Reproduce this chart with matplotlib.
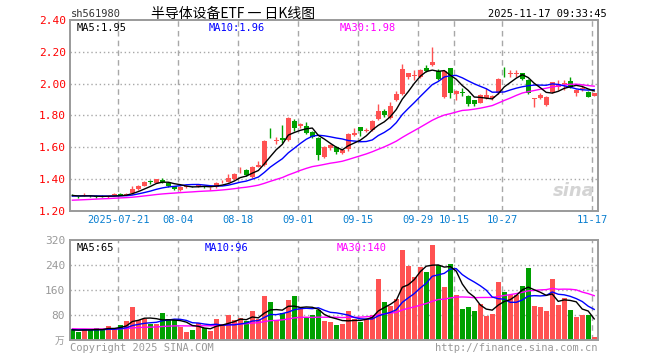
import matplotlib
matplotlib.use("Agg")
import matplotlib.pyplot as plt
import numpy as np
import pandas as pd

# daily candles 2025-07-09 .. 2025-11-17 (88 trading days)
open_ = [1.302, 1.290, 1.296, 1.296, 1.293, 1.294, 1.288, 1.300, 1.306, 1.302,
         1.311, 1.336, 1.360, 1.387, 1.378, 1.395, 1.378, 1.357, 1.330, 1.352,
         1.357, 1.358, 1.356, 1.336, 1.349, 1.380, 1.384, 1.400, 1.443, 1.458,
         1.412, 1.478, 1.489, 1.680, 1.640, 1.660, 1.643, 1.767, 1.733, 1.734,
         1.694, 1.660, 1.537, 1.596, 1.604, 1.565, 1.588, 1.677, 1.726, 1.702,
         1.709, 1.778, 1.830, 1.782, 1.897, 1.933, 2.044, 2.050, 2.040, 2.100,
         2.117, 2.081, 1.914, 2.097, 1.934, 1.946, 1.923, 1.897, 1.880, 1.908,
         1.908, 1.940, 2.094, 2.060, 2.060, 2.065, 2.025, 1.906, 1.908, 1.866,
         1.946, 1.982, 1.998, 2.017, 1.940, 1.968, 1.950, 1.924]
high = [1.306, 1.292, 1.310, 1.300, 1.298, 1.300, 1.296, 1.312, 1.310, 1.312,
        1.355, 1.366, 1.388, 1.393, 1.404, 1.408, 1.383, 1.360, 1.356, 1.362,
        1.360, 1.372, 1.360, 1.350, 1.385, 1.392, 1.434, 1.436, 1.474, 1.462,
        1.482, 1.512, 1.645, 1.720, 1.667, 1.740, 1.790, 1.775, 1.752, 1.760,
        1.700, 1.665, 1.610, 1.620, 1.610, 1.590, 1.688, 1.720, 1.730, 1.720,
        1.772, 1.872, 1.840, 1.885, 1.955, 2.124, 2.070, 2.088, 2.090, 2.115,
        2.230, 2.090, 2.085, 2.100, 1.958, 1.970, 1.927, 1.900, 1.935, 1.970,
        1.930, 2.034, 2.104, 2.088, 2.088, 2.070, 2.030, 1.912, 1.940, 1.922,
        2.012, 2.022, 2.022, 2.040, 1.966, 1.990, 1.955, 1.944]
low = [1.292, 1.280, 1.292, 1.286, 1.284, 1.285, 1.284, 1.298, 1.298, 1.298,
       1.306, 1.330, 1.355, 1.372, 1.374, 1.375, 1.352, 1.332, 1.325, 1.346,
       1.348, 1.352, 1.343, 1.332, 1.345, 1.376, 1.380, 1.396, 1.436, 1.420,
       1.405, 1.474, 1.485, 1.660, 1.620, 1.625, 1.640, 1.700, 1.720, 1.685,
       1.660, 1.520, 1.532, 1.585, 1.555, 1.555, 1.580, 1.672, 1.670, 1.695,
       1.705, 1.770, 1.790, 1.775, 1.890, 1.930, 2.030, 2.020, 2.035, 2.075,
       2.110, 2.020, 1.910, 1.908, 1.900, 1.925, 1.862, 1.862, 1.876, 1.904,
       1.898, 1.936, 2.040, 2.045, 2.045, 2.020, 1.935, 1.855, 1.904, 1.862,
       1.942, 1.962, 1.962, 1.975, 1.925, 1.955, 1.914, 1.920]
close = [1.298, 1.285, 1.300, 1.292, 1.290, 1.291, 1.292, 1.305, 1.302, 1.307,
         1.338, 1.359, 1.384, 1.383, 1.400, 1.380, 1.357, 1.338, 1.352, 1.356,
         1.354, 1.362, 1.349, 1.340, 1.378, 1.385, 1.409, 1.430, 1.448, 1.425,
         1.478, 1.490, 1.640, 1.676, 1.644, 1.643, 1.782, 1.720, 1.745, 1.692,
         1.667, 1.552, 1.604, 1.612, 1.569, 1.583, 1.682, 1.690, 1.700, 1.707,
         1.766, 1.828, 1.800, 1.860, 1.933, 2.092, 2.066, 2.056, 2.086, 2.080,
         2.138, 2.027, 2.080, 1.940, 1.954, 1.942, 1.872, 1.872, 1.929, 1.929,
         1.920, 2.030, 2.090, 2.066, 2.066, 2.030, 1.940, 1.910, 1.929, 1.918,
         2.008, 1.995, 2.002, 1.980, 1.962, 1.972, 1.918, 1.940]
# volume, 万手
volume = [36, 28, 36, 33, 38, 36, 46, 36, 49, 62,
          107, 65, 69, 52, 52, 87, 67, 65, 43, 28,
          33, 54, 38, 31, 68, 52, 81, 65, 71, 60,
          95, 67, 140, 123, 65, 86, 129, 142, 101, 74,
          81, 97, 60, 57, 49, 52, 92, 67, 57, 67,
          81, 196, 121, 108, 132, 289, 236, 203, 235, 219,
          305, 240, 169, 244, 145, 101, 107, 95, 116, 79,
          84, 187, 153, 145, 145, 174, 231, 111, 106, 95,
          196, 113, 135, 97, 73, 81, 81, 9]

# sessions before the window, only feed the moving averages
pre_close = [1.24, 1.25, 1.24, 1.23, 1.24, 1.25, 1.24, 1.24, 1.25, 1.26,
             1.25, 1.25, 1.26, 1.26, 1.27, 1.27, 1.26, 1.27, 1.28, 1.29,
             1.28, 1.29, 1.29, 1.30, 1.29, 1.30, 1.30, 1.29, 1.30]
pre_vol = [40, 38, 42, 36, 39, 41, 37, 35, 40, 38, 36, 39, 37, 41, 38,
           36, 40, 37, 35, 38, 36, 34, 37, 35, 33, 32, 34, 31, 33]

tick_idx = [8, 18, 28, 38, 48, 58, 64, 72, 87]
tick_lab = ["2025-07-21", "08-04", "08-18", "09-01", "09-15", "09-29",
            "10-15", "10-27", "11-17"]

RED = "#FF5252"
GREEN = "#00A000"
GRID = "#A8A8A8"
FRAME = "#9A9A9A"
MONO = "DejaVu Sans Mono"
CJK = ["Noto Sans CJK SC", "DejaVu Sans"]

o = np.array(open_)
h = np.array(high)
l = np.array(low)
c = np.array(close)
v = np.array(volume)
x = np.arange(len(c))
n_pre = len(pre_close)

cs = pd.Series(pre_close + close)
vs = pd.Series(pre_vol + volume)
pma = {k: cs.rolling(k).mean().iloc[n_pre:].values for k in (5, 10, 30)}
vma = {k: vs.rolling(k).mean().iloc[n_pre:].values for k in (5, 10, 30)}

col = np.where(c >= o, RED, GREEN)

fig = plt.figure(figsize=(6.6, 3.6), dpi=100)
W, H = 660.0, 360.0
ax = fig.add_axes([70 / W, 1 - 211 / H, 527.5 / W, 191 / H])
axv = fig.add_axes([70 / W, 1 - 340.3 / H, 527.5 / W, 100.3 / H])

xpos = np.array(tick_idx) - 0.33
for a in (ax, axv):
    a.set_xlim(-0.4, 87.55)
    for xp in xpos:
        a.axvline(xp, color=GRID, lw=1, ls=(0, (4, 3)), zorder=0)
    for s in a.spines.values():
        s.set_color(FRAME)
        s.set_linewidth(1.4)
    a.tick_params(length=0)

# price panel
ax.set_ylim(1.20, 2.40)
for yv in [1.4, 1.6, 1.8, 2.0, 2.2]:
    ax.axhline(yv, color=GRID, lw=1, ls=(0, (1, 2)), zorder=0)
ax.vlines(x, l, h, colors=col, lw=1, zorder=2)
ax.bar(x, np.maximum(np.abs(c - o), 0.004), bottom=np.minimum(o, c),
       width=0.8, color=col, lw=0, zorder=2)
ax.plot(x, pma[30], color="#FF00FF", lw=1, zorder=3)
ax.plot(x, pma[10], color="#0000FF", lw=1, zorder=3)
ax.plot(x, pma[5], color="black", lw=1, zorder=3)
ax.set_yticks([1.2, 1.4, 1.6, 1.8, 2.0, 2.2, 2.4])
ax.set_yticklabels(["%.2f" % t for t in [1.2, 1.4, 1.6, 1.8, 2.0, 2.2, 2.4]],
                   color="red", fontsize=8, family=MONO)
ax.set_xticks(xpos)
ax.set_xticklabels(tick_lab, color="#0A7FD0", fontsize=7.5, family=MONO)
ax.tick_params(axis="x", pad=3)
ax.tick_params(axis="y", pad=3)

ax.text(0.012, 0.985, "MA5:1.95", transform=ax.transAxes, va="top",
        fontsize=7.5, family=MONO, color="black")
ax.text(0.262, 0.985, "MA10:1.96", transform=ax.transAxes, va="top",
        fontsize=7.5, family=MONO, color="#0000FF")
ax.text(0.512, 0.985, "MA30:1.98", transform=ax.transAxes, va="top",
        fontsize=7.5, family=MONO, color="#FF00FF")
ax.text(0.995, 0.06, "sina", transform=ax.transAxes, ha="right", va="bottom",
        fontsize=13, fontweight="bold", style="italic", color="#D4D4D4")

# volume panel
axv.set_ylim(0, 320)
for yv in [80, 160, 240]:
    axv.axhline(yv, color=GRID, lw=1, ls=(0, (1, 2)), zorder=0)
axv.bar(x, v, width=0.83, color=col, lw=0, zorder=2)
axv.plot(x, vma[30], color="#FF00FF", lw=1, zorder=3)
axv.plot(x, vma[10], color="#0000FF", lw=1, zorder=3)
axv.plot(x, vma[5], color="black", lw=1, zorder=3)
axv.set_yticks([80, 160, 240, 320])
axv.set_yticklabels(["80", "160", "240", "320"], color="#999999",
                    fontsize=8, family=MONO)
axv.set_xticks([])
axv.text(0.012, 0.975, "MA5:65", transform=axv.transAxes, va="top",
         fontsize=7.5, family=MONO, color="black")
axv.text(0.255, 0.975, "MA10:96", transform=axv.transAxes, va="top",
         fontsize=7.5, family=MONO, color="#0000FF")
axv.text(0.505, 0.975, "MA30:140", transform=axv.transAxes, va="top",
         fontsize=7.5, family=MONO, color="#FF00FF")

# header and footer
fig.text(71 / W, 1 - 14 / H, "sh561980", fontsize=7.5, family=MONO,
         color="#333333", va="center")
fig.text(233 / W, 1 - 14 / H, "半导体设备ETF 一 日K线图", fontsize=10,
         family=CJK, color="black", va="center", ha="center")
fig.text(607 / W, 1 - 14 / H, "2025-11-17 09:33:45", fontsize=7.5,
         family=MONO, color="black", va="center", ha="right")
fig.text(70 / W, 1 - 348 / H, "Copyright 2025 SINA.COM", fontsize=7.5,
         family=MONO, color="#999999", va="center")
fig.text(597 / W, 1 - 348 / H, "http://finance.sina.com.cn", fontsize=7.5,
         family=MONO, color="#999999", va="center", ha="right")
fig.text(64 / W, 1 - 341 / H, "万", fontsize=7, family=CJK,
         color="#999999", va="center", ha="right")

fig.savefig("out.png", dpi=100)
